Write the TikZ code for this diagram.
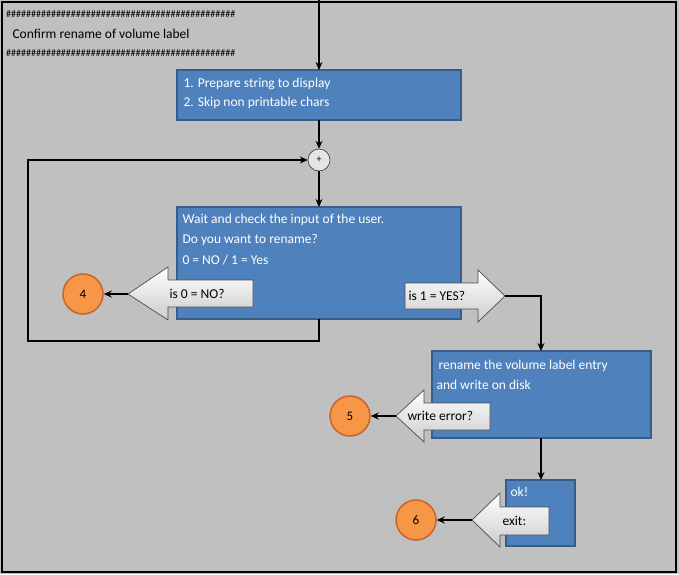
\documentclass[tikz,border=0pt]{standalone}
\usepackage{fontspec}
\setmainfont{Carlito}
\usetikzlibrary{arrows.meta}
\definecolor{bg}{RGB}{192,192,192}
\definecolor{bblue}{RGB}{79,129,189}
\definecolor{bedge}{RGB}{56,93,138}
\definecolor{orng}{RGB}{247,150,70}
\definecolor{oedge}{RGB}{200,100,40}
\begin{document}
\begin{tikzpicture}[x=1pt,y=-1pt,
  box/.style={draw=bedge,line width=1.5pt,fill=bblue},
  wt/.style={text=white,anchor=west,font=\fontsize{13.5}{15}\selectfont},
  bt/.style={anchor=west,font=\fontsize{13.5}{15}\selectfont},
  arr/.style={draw=black!70,top color=white,bottom color=black!20,line width=0.7pt},
  circ/.style={circle,draw=oedge,fill=orng,minimum size=40pt,inner sep=0pt,font=\fontsize{13}{15}\selectfont,line width=1.5pt},
  con/.style={line width=1.4pt,-{Stealth[length=8pt,width=7pt]}},
  hs/.style={anchor=west,inner sep=0pt,font=\fontsize{10}{12}\selectfont}]
\useasboundingbox (0,0) rectangle (679,574);
\fill[bg] (0,0) rectangle (679,574);
\draw[line width=2pt] (2,2) rectangle (676,572);
\node[hs] (h1) at (6,14) {\#\#\#\#\#\#\#\#\#\#\#\#\#\#\#\#\#\#\#\#\#\#\#\#\#\#\#\#\#\#\#\#\#\#\#\#\#\#\#\#\#\#\#\#\#\#};
\node[bt] (h2) at (9,34) {Confirm rename of volume label};
\node[hs] (h3) at (6,53) {\#\#\#\#\#\#\#\#\#\#\#\#\#\#\#\#\#\#\#\#\#\#\#\#\#\#\#\#\#\#\#\#\#\#\#\#\#\#\#\#\#\#\#\#\#\#};
% boxes
\draw[box] (177,70) rectangle (461,120);
\coordinate (b1t) at (319,70); \coordinate (b1b) at (319,120);
\node[wt] (t11) at (180,84) {1. Prepare string to display};
\node[wt] (t12) at (180,103) {2. Skip non printable chars};
\node[circle,draw,fill=white!90!black,minimum size=22pt,inner sep=0pt,font=\fontsize{10}{10}\selectfont] (plus) at (319,160) {+};
\draw[box] (177,207) rectangle (461,319);
\coordinate (b2t) at (319,207); \coordinate (b2b) at (319,319);
\node[wt] (t21) at (179,220) {Wait and check the input of the user.};
\node[wt] (t22) at (179,240) {Do you want to rename?};
\node[wt] (t23) at (179,260) {0 = NO / 1 = Yes};
\draw[box] (432,351) rectangle (651,438);
\coordinate (b3t) at (541,351); \coordinate (b3b) at (541,438);
\node[wt] (t31) at (435,366) {rename the volume label entry};
\node[wt] (t32) at (433,385) {and write on disk};
\draw[box] (506,480) rectangle (575,546);
\coordinate (b4t) at (541,480);
\node[wt] (t41) at (507,492) {ok!};
% arrow shapes
\draw[arr] (253,280) -- (168,280) -- (168,267) -- (128,294) -- (168,320) -- (168,307) -- (253,307) -- cycle;
\coordinate (a1) at (128,294);
\node[bt] (l1) at (166,294) {is 0 = NO?};
\draw[arr] (405,283) -- (478,283) -- (478,270) -- (505,296) -- (478,322) -- (478,309) -- (405,309) -- cycle;
\coordinate (a2) at (505,296);
\node[bt] (l2) at (405,296) {is 1 = YES?};
\draw[arr] (490,403) -- (424,403) -- (424,390) -- (396,416) -- (424,442) -- (424,430) -- (490,430) -- cycle;
\coordinate (a3) at (396,416);
\node[bt] (l3) at (404,416) {write error?};
\draw[arr] (549,507) -- (500,507) -- (500,493) -- (472,520) -- (500,547) -- (500,535) -- (549,535) -- cycle;
\coordinate (a4) at (472,520);
\node[bt] (l4) at (499,521) {exit:};
% circles
\node[circ] (c4) at (83,294) {4};
\node[circ] (c5) at (350,416) {5};
\node[circ] (c6) at (416,520) {6};
% connectors
\coordinate (top) at (319,0);
\draw[con] (top) -- (b1t);
\draw[con] (b1b) -- (plus);
\draw[con] (plus) -- (b2t);
\draw[con] (b2b) -- (319,341) -- (28,341) -- (28,160) -- (plus);
\draw[con] (a1) -- (c4);
\draw[con] (a2) -- (541,296) -- (b3t);
\draw[con] (a3) -- (c5);
\draw[con] (b3b) -- (b4t);
\draw[con] (a4) -- (c6);
\end{tikzpicture}
\end{document}
